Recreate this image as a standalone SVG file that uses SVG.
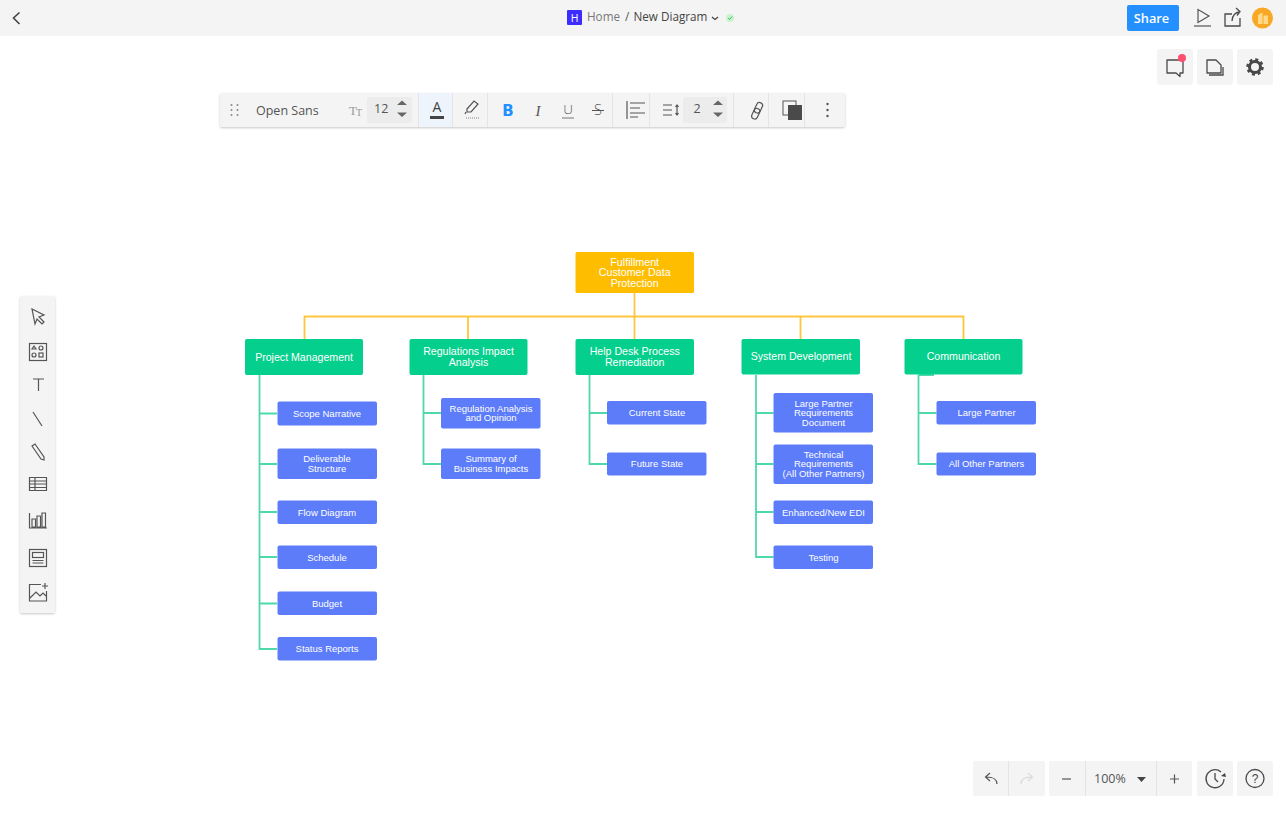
<svg xmlns="http://www.w3.org/2000/svg" width="1286" height="816" viewBox="0 0 1286 816">
<style>
.ui{font-family:"Open Sans","Liberation Sans",sans-serif;fill:#555}
.n{font-family:"Liberation Sans",Arial,sans-serif;fill:#fff;text-anchor:middle}
.root rect{fill:#ffbd00}
.g rect{fill:#05cf8c}
.b rect{fill:#5c7cfa}
.g text{font-size:10.6px}
.root text{font-size:10.7px}
.b text{font-size:9.5px}
.pan{fill:#f4f4f4}
.ic{fill:none;stroke:#555;stroke-width:1.2}
.ic2{fill:none;stroke:#4a4a4a;stroke-width:1.3}
.sep{stroke:#e4e4e4;stroke-width:1}
#connectors path{fill:none}
.y{stroke:#ffc53d;stroke-width:1.8}
.t{stroke:#4fd9aa;stroke-width:1.8}
</style>
<defs>
<filter id="sh" x="-5%" y="-20%" width="110%" height="140%"><feDropShadow dx="0" dy="1" stdDeviation="0.8" flood-color="#000" flood-opacity="0.22"/></filter>
</defs>
<rect width="1286" height="816" fill="#fff"/>
<g id="topbar">
<rect width="1286" height="36" fill="#f4f4f4"/>
<path d="M19.500 12.500l-6 5.500 6 6" fill="none" stroke="#444" stroke-width="1.600"/>
<rect x="567" y="10" width="15" height="15" rx="1" fill="#3d2cff"/>
<text x="574.500" y="22" font-size="10.500" text-anchor="middle" fill="#fff" font-family="Open Sans, sans-serif">H</text>
<text class="ui" x="587" y="21" font-size="11.700" style="fill:#777">Home</text>
<text class="ui" x="625" y="21" font-size="11.700">/</text>
<text class="ui" x="633.500" y="21" font-size="11.700" style="fill:#444">New Diagram</text>
<path d="M712 17l3 2.500 3-2.500" fill="none" stroke="#444" stroke-width="1.300"/>
<circle cx="730" cy="18" r="4" fill="#c9f2cf"/>
<path d="M728 18l1.500 1.500 2.500-3" fill="none" stroke="#3cb04e" stroke-width="0.900"/>
<rect x="1127" y="5" width="52" height="26" rx="2" fill="#2490ff"/>
<text x="1151.500" y="23" font-size="12.800" font-weight="600" text-anchor="middle" fill="#fff" font-family="Open Sans, sans-serif">Share</text>
<path d="M1198 9.500v13l11-6.500z" class="ic"/><path d="M1194 26h17" class="ic"/>
<path d="M1232 14h-7v12h15v-8" class="ic2"/><path d="M1232 21c0-6 4-9 8-9M1236 8l4 3.500-3 4" class="ic2"/>
<circle cx="1262.500" cy="18" r="10.500" fill="#f9a825"/>
<path d="M1258 24v-9l4.500-2.500v11.500zM1263.500 15.500h4.500v8.500h-4.500z" fill="#ffd98a"/>
</g>
<g id="right-tools">
<rect class="pan" x="1157" y="49" width="36" height="36" rx="3"/>
<rect class="pan" x="1197" y="49" width="36" height="36" rx="3"/>
<rect class="pan" x="1237" y="49" width="36" height="36" rx="3"/>
<path d="M1167 60h16v13h-3v3.500l-4-3.500h-9z" class="ic2" stroke-linejoin="round"/>
<circle cx="1182" cy="58" r="4" fill="#ff4d6d"/>
<path d="M1207 60h9l5 5v8h-14z" class="ic2" stroke-linejoin="round"/>
<path d="M1209 75h14v-8" class="ic2"/>
<circle cx="1255" cy="67" r="5.500" fill="none" stroke="#484848" stroke-width="3"/>
<circle cx="1255" cy="67" r="7.500" fill="none" stroke="#484848" stroke-width="2.500" stroke-dasharray="3 2.890"/>
</g>
<g id="format-bar">
<rect class="pan" x="220" y="93" width="625" height="34" rx="2" filter="url(#sh)"/>
<rect x="367" y="97" width="45" height="26" rx="2" fill="#ececec"/>
<rect x="683" y="97" width="44" height="26" rx="2" fill="#ececec"/>
<rect x="419" y="93" width="33" height="34" fill="#eef4fc"/>
<g fill="#888"><circle cx="231.500" cy="105" r="1"/><circle cx="237.500" cy="105" r="1"/><circle cx="231.500" cy="110" r="1"/><circle cx="237.500" cy="110" r="1"/><circle cx="231.500" cy="115" r="1"/><circle cx="237.500" cy="115" r="1"/></g>
<text class="ui" x="256" y="115" font-size="12.500">Open Sans</text>
<text x="349" y="115" font-size="13" fill="#999" font-family="Liberation Serif, serif">T</text><text x="356" y="116" font-size="10" fill="#999" font-family="Liberation Serif, serif">T</text>
<text class="ui" x="374" y="113" font-size="12.500">12</text>
<path d="M397 105l5-4.500 5 4.500z M397 112.500l5 4.500 5-4.500z" fill="#666"/>
<text class="ui" x="437" y="112" font-size="14" text-anchor="middle" style="fill:#444">A</text>
<rect x="430" y="116" width="14" height="3" fill="#444"/>
<path d="M467 109l7-8 4 3-7 8-4 0zM466 112l-1 2" class="ic"/><path d="M466 118h14" stroke="#bbb" stroke-width="2" stroke-dasharray="1 1"/>
<text x="508" y="115.500" font-size="15" font-weight="700" text-anchor="middle" fill="#2490ff" font-family="DejaVu Sans, sans-serif">B</text>
<text x="538" y="115.500" font-size="15" font-style="italic" text-anchor="middle" fill="#555" font-family="Liberation Serif, serif">I</text>
<text class="ui" x="568" y="114" font-size="13.500" text-anchor="middle" style="font-weight:300">U</text><path d="M562 118h12" stroke="#777"/>
<text class="ui" x="598" y="115" font-size="14.500" text-anchor="middle" style="font-weight:300">S</text><path d="M592 110.500h12" stroke="#555"/>
<path d="M627 101v18M630 103h15M630 108h10M630 113h15M630 117h8" class="ic"/>
<path d="M663 105h9M663 110h9M663 115h9M677 105v10M675.500 107l1.500-2 1.500 2M675.500 113l1.500 2 1.500-2" class="ic" stroke-width="0.900" stroke="#777"/>
<text class="ui" x="697" y="113" font-size="12.500" text-anchor="middle">2</text>
<path d="M713 105l5-4.500 5 4.500z M713 112.500l5 4.500 5-4.500z" fill="#666"/>
<g class="ic" transform="rotate(25 757 111)"><rect x="754" y="102" width="6" height="11" rx="3"/><rect x="754" y="108.500" width="6" height="11" rx="3"/></g>
<rect x="783" y="101" width="13" height="14" fill="none" stroke="#555"/>
<rect x="788" y="105" width="14" height="15" fill="#4a4a4a"/>
<g fill="#555"><circle cx="827.500" cy="104" r="1.200"/><circle cx="827.500" cy="110" r="1.200"/><circle cx="827.500" cy="116" r="1.200"/></g>
<path class="sep" d="M418.500 93v34M452.500 93v34M487.500 93v34M612.500 93v34M649.500 93v34M733.500 93v34M768.500 93v34M804.500 93v34"/>
</g>
<g id="left-tools">
<rect class="pan" x="20" y="296" width="35" height="317" rx="2" filter="url(#sh)"/>
<path d="M32 309l12 6-5 2 5 5-2 2-5-5-2 5z" class="ic"/>
<rect x="29.500" y="343.500" width="17" height="17" class="ic"/>
<path d="M34 346l2 3h-4z" class="ic" stroke-width="0.900"/><circle cx="41" cy="348" r="2" class="ic" stroke-width="0.900"/><circle cx="34" cy="355" r="2" class="ic" stroke-width="0.900"/><rect x="39" y="353" width="4" height="4" class="ic" stroke-width="0.900"/>
<path d="M33 379h11M38.500 379v12" class="ic" stroke-width="1.400"/>
<path d="M33 412l9 14" class="ic" stroke-width="1.300"/>
<path d="M32 446l3-2 9 13 0 3-3-1z" class="ic"/>
<path d="M29.500 477.500h17v13h-17zM29.500 481h17M29.500 484h17M29.500 487.500h17M35 477.500v13" class="ic" stroke-width="1"/>
<path d="M29.500 513v15h17.500M32 519h3.500v8h-3.500zM37 516h3.500v11h-3.500zM42 513h3.500v14h-3.500z" class="ic" stroke-width="1"/>
<rect x="29.500" y="549.500" width="17" height="17" class="ic"/><rect x="32.500" y="552.500" width="11" height="5" class="ic" stroke-width="1"/><path d="M32.500 560.500h11M32.500 563h11" class="ic" stroke-width="1"/>
<path d="M41 584.500h-11.500v16.500h17v-10" class="ic"/><path d="M30 598l6-6 4 4 3-3 3 3" class="ic" stroke-width="1"/><path d="M42 586h6M45 583v6" class="ic" stroke-width="1"/>
</g>
<g id="bottom-tools">
<rect class="pan" x="973" y="761" width="72" height="35" rx="2"/>
<rect class="pan" x="1049" y="761" width="143" height="35" rx="2"/>
<rect class="pan" x="1197" y="761" width="36" height="35" rx="2"/>
<rect class="pan" x="1237" y="761" width="36" height="35" rx="2"/>
<path class="sep" d="M1008.500 761v35M1085.500 761v35M1156.500 761v35"/>
<path d="M997 784c0-5-3-7-11-7M990 773l-4.500 4 4.500 4" class="ic" stroke-width="1.400"/>
<path d="M1021 784c0-5 3-7 11-7M1028 773l4.500 4-4.500 4" fill="none" stroke="#ddd" stroke-width="1.400"/>
<path d="M1062 779h9" class="ic" stroke-width="1.400"/>
<text class="ui" x="1094" y="783" font-size="12.500">100%</text>
<path d="M1137 777h9l-4.500 5z" fill="#444"/>
<path d="M1170 779h9M1174.500 774.500v9" class="ic" stroke-width="1.200"/>
<path d="M1224 779a9 9 0 1 1-3-7" class="ic2"/><path d="M1215 773v6l3 3" class="ic2"/><path d="M1221 776l4-3 1 4z" fill="#444"/>
<circle cx="1255" cy="778.500" r="9" class="ic2"/>
<text x="1255" y="783" font-size="12" text-anchor="middle" fill="#444" font-family="Liberation Sans, sans-serif">?</text>
</g>
<g id="connectors">
<path class="y" d="M634.500 293V316.500M304.500 339V316.500H963.500V339M468 316.500V339M634.500 316.500V339M800.500 316.500V339"/>
<path class="t" d="M259.500 375V649H277M259.500 413.500H277M259.500 464H277M259.500 512H277M259.500 557H277M259.500 603.500H277"/>
<path class="t" d="M423.500 375V464H441M423.500 413H441"/>
<path class="t" d="M589.500 375V464H607M589.500 413H607"/>
<path class="t" d="M756 375V557H773.500M756 413H773.500M756 464H773.500M756 512H773.500"/>
<path class="t" d="M918.500 375V464H936.500M918.500 413H936.500M918.500 375H934"/>
</g>
<g id="root" class="root"><rect x="575.500" y="252" width="118.500" height="41" rx="1.500"/><text class="n"><tspan x="634.700" y="265.500">Fulfillment</tspan><tspan x="634.700" y="276">Customer Data</tspan><tspan x="634.700" y="286.500">Protection</tspan></text></g>
<g id="project-management" class="g"><rect x="245" y="339" width="118" height="36" rx="2"/><text class="n" x="304" y="360.500">Project Management</text></g>
<g id="regulations-impact" class="g"><rect x="409.500" y="339" width="118" height="36" rx="2"/><text class="n"><tspan x="468.500" y="355.300">Regulations Impact</tspan><tspan x="468.500" y="365.800">Analysis</tspan></text></g>
<g id="help-desk" class="g"><rect x="575.500" y="339" width="118.500" height="36" rx="2"/><text class="n"><tspan x="634.700" y="355.300">Help Desk Process</tspan><tspan x="634.700" y="365.800">Remediation</tspan></text></g>
<g id="system-development" class="g"><rect x="741.500" y="339" width="118.500" height="35.500" rx="2"/><text class="n" x="801" y="360.300">System Development</text></g>
<g id="communication" class="g"><rect x="904.500" y="339" width="118" height="35.500" rx="2"/><text class="n" x="963.500" y="360">Communication</text></g>
<g id="scope-narrative" class="b"><rect x="277.500" y="401.500" width="99.500" height="24" rx="2"/><text class="n" x="327" y="416.500">Scope Narrative</text></g>
<g id="deliverable-structure" class="b"><rect x="277.500" y="448.500" width="99.500" height="30.500" rx="2"/><text class="n"><tspan x="327" y="462">Deliverable</tspan><tspan x="327" y="471.500">Structure</tspan></text></g>
<g id="flow-diagram" class="b"><rect x="277.500" y="500.500" width="99.500" height="23.500" rx="2"/><text class="n" x="327" y="515.500">Flow Diagram</text></g>
<g id="schedule" class="b"><rect x="277.500" y="545.500" width="99.500" height="23.500" rx="2"/><text class="n" x="327" y="560.500">Schedule</text></g>
<g id="budget" class="b"><rect x="277.500" y="591.500" width="99.500" height="23.500" rx="2"/><text class="n" x="327" y="606.500">Budget</text></g>
<g id="status-reports" class="b"><rect x="277.500" y="637" width="99.500" height="23.500" rx="2"/><text class="n" x="327" y="652">Status Reports</text></g>
<g id="regulation-analysis" class="b"><rect x="441" y="398" width="99.500" height="30.500" rx="2"/><text class="n"><tspan x="491" y="411.500">Regulation Analysis</tspan><tspan x="491" y="421">and Opinion</tspan></text></g>
<g id="summary-impacts" class="b"><rect x="441" y="448.500" width="99.500" height="30.500" rx="2"/><text class="n"><tspan x="491" y="462">Summary of</tspan><tspan x="491" y="471.500">Business Impacts</tspan></text></g>
<g id="current-state" class="b"><rect x="607" y="401" width="99.500" height="23.500" rx="2"/><text class="n" x="657" y="416">Current State</text></g>
<g id="future-state" class="b"><rect x="607" y="452.500" width="99.500" height="23" rx="2"/><text class="n" x="657" y="467">Future State</text></g>
<g id="large-partner-doc" class="b"><rect x="773.500" y="393" width="99.500" height="39.500" rx="2"/><text class="n"><tspan x="823.500" y="406.500">Large Partner</tspan><tspan x="823.500" y="416">Requirements</tspan><tspan x="823.500" y="425.500">Document</tspan></text></g>
<g id="technical-req" class="b"><rect x="773.500" y="444.500" width="99.500" height="39.500" rx="2"/><text class="n"><tspan x="823.500" y="457.500">Technical</tspan><tspan x="823.500" y="467">Requirements</tspan><tspan x="823.500" y="476.500">(All Other Partners)</tspan></text></g>
<g id="enhanced-edi" class="b"><rect x="773.500" y="500.500" width="99.500" height="23.500" rx="2"/><text class="n" x="823.500" y="515.500">Enhanced/New EDI</text></g>
<g id="testing" class="b"><rect x="773.500" y="545.500" width="99.500" height="23.500" rx="2"/><text class="n" x="823.500" y="560.500">Testing</text></g>
<g id="large-partner" class="b"><rect x="936.500" y="401" width="99.500" height="23.500" rx="2"/><text class="n" x="986.500" y="416">Large Partner</text></g>
<g id="all-other-partners" class="b"><rect x="936.500" y="452.500" width="99.500" height="23" rx="2"/><text class="n" x="986.500" y="467">All Other Partners</text></g>
</svg>
